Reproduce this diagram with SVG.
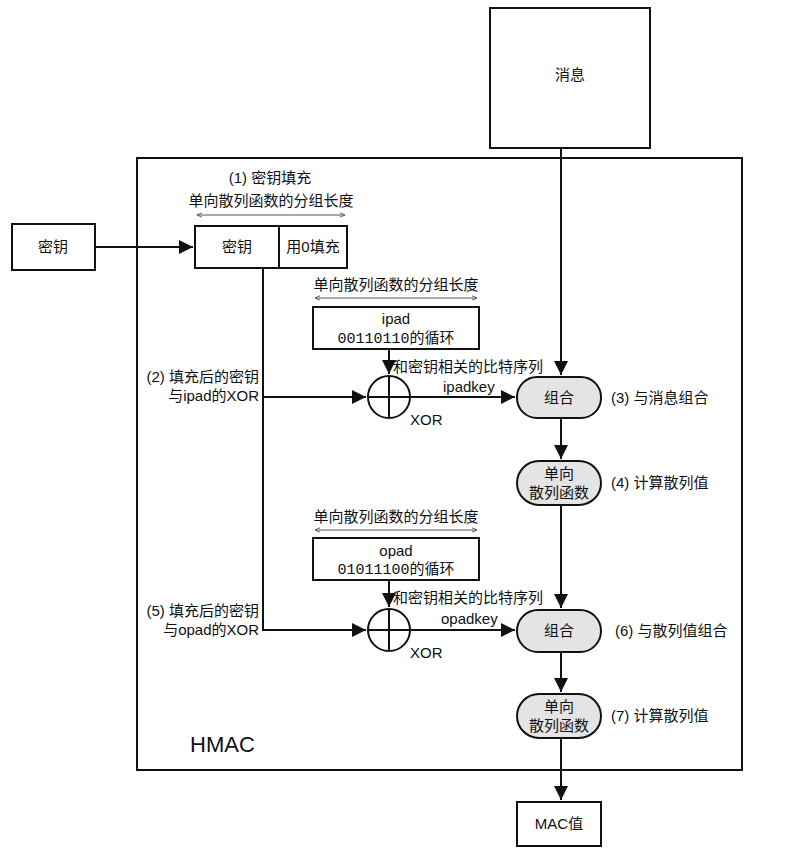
<svg xmlns="http://www.w3.org/2000/svg" width="794" height="855" viewBox="0 0 794 855">
<style>
text{font-family:"Liberation Sans","Noto Sans CJK SC",sans-serif;font-size:15px;fill:#111}
.c{text-anchor:middle}
.e{text-anchor:end}
.m{font-family:"Liberation Mono","Noto Sans CJK SC",monospace}
.b{fill:#fff;stroke:#111;stroke-width:2}
.p{fill:#e4e4e4;stroke:#111;stroke-width:2}
.l{fill:none;stroke:#111;stroke-width:2}
.t{fill:none;stroke:#555;stroke-width:1}
</style>
<defs>
<marker id="a" viewBox="0 0 10 10" refX="10" refY="5" markerWidth="7" markerHeight="7" orient="auto"><path d="M0,0L10,5L0,10z" fill="#111"/></marker>
<marker id="s" viewBox="0 0 10 10" refX="9" refY="5" markerWidth="6" markerHeight="6" orient="auto-start-reverse"><path d="M0,1L9,5L0,9" fill="none" stroke="#555" stroke-width="1.5"/></marker>
</defs>
<g id="frame"><rect x="137" y="158" width="605" height="612" fill="none" stroke="#111" stroke-width="2"/><text x="190" y="752" style="font-size:22px">HMAC</text></g>
<g id="msg"><rect class="b" x="490" y="8" width="160" height="140"/><text class="c" x="570" y="80">消息</text></g>
<g id="key"><rect class="b" x="12" y="224" width="83" height="46"/><text class="c" x="53" y="252">密钥</text></g>
<g id="padded"><text class="c" x="270" y="183">(1) 密钥填充</text><text class="c" x="271" y="206">单向散列函数的分组长度</text>
<line class="t" x1="197" y1="215" x2="345" y2="215" marker-start="url(#s)" marker-end="url(#s)"/>
<rect class="b" x="195" y="226" width="152" height="42"/><line class="l" x1="279" y1="226" x2="279" y2="268"/>
<text class="c" x="237" y="252">密钥</text><text class="c" x="313" y="252">用0填充</text></g>
<g id="ipad"><text class="c" x="396" y="290">单向散列函数的分组长度</text>
<line class="t" x1="315" y1="298" x2="477" y2="298" marker-start="url(#s)" marker-end="url(#s)"/>
<rect class="b" x="313" y="307" width="166" height="42"/><text class="c" x="396" y="324">ipad</text><text class="c m" x="396" y="343">00110110的循环</text></g>
<g id="xor1"><circle class="b" cx="389" cy="397" r="21"/><line class="l" x1="368" y1="397" x2="410" y2="397"/><line class="l" x1="389" y1="376" x2="389" y2="418"/><text x="410" y="425">XOR</text></g>
<g id="comb1"><rect class="p" x="517" y="377" width="84" height="41" rx="20"/><text class="c" x="559" y="403">组合</text><text x="611" y="403">(3) 与消息组合</text></g>
<g id="hash1"><rect class="p" x="517" y="461" width="84" height="44" rx="22"/><text class="c" x="559" y="479">单向</text><text class="c" x="559" y="498">散列函数</text><text x="611" y="488">(4) 计算散列值</text></g>
<g id="opad"><text class="c" x="396" y="522">单向散列函数的分组长度</text>
<line class="t" x1="315" y1="530" x2="477" y2="530" marker-start="url(#s)" marker-end="url(#s)"/>
<rect class="b" x="313" y="538" width="166" height="42"/><text class="c" x="396" y="556">opad</text><text class="c m" x="396" y="574">01011100的循环</text></g>
<g id="xor2"><circle class="b" cx="389" cy="630" r="21"/><line class="l" x1="368" y1="630" x2="410" y2="630"/><line class="l" x1="389" y1="609" x2="389" y2="651"/><text x="410" y="658">XOR</text></g>
<g id="comb2"><rect class="p" x="517" y="610" width="84" height="42" rx="21"/><text class="c" x="559" y="636">组合</text><text x="615" y="636">(6) 与散列值组合</text></g>
<g id="hash2"><rect class="p" x="517" y="694" width="84" height="44" rx="22"/><text class="c" x="559" y="712">单向</text><text class="c" x="559" y="731">散列函数</text><text x="611" y="721">(7) 计算散列值</text></g>
<g id="mac"><rect class="b" x="517" y="802" width="84" height="44"/><text class="c" x="559" y="829">MAC值</text></g>
<g id="labels">
<text class="e" x="259" y="382">(2) 填充后的密钥</text><text class="e" x="259" y="401">与ipad的XOR</text>
<text x="393" y="372">和密钥相关的比特序列</text><text x="443" y="392">ipadkey</text>
<text class="e" x="259" y="616">(5) 填充后的密钥</text><text class="e" x="259" y="635">与opad的XOR</text>
<text x="393" y="603">和密钥相关的比特序列</text><text x="441" y="624">opadkey</text>
</g>
<g id="connectors">
<line class="l" x1="95" y1="247" x2="193" y2="247" marker-end="url(#a)"/>
<line class="l" x1="561" y1="148" x2="561" y2="375" marker-end="url(#a)"/>
<polyline class="l" points="263,268 263,630 366,630" marker-end="url(#a)"/>
<line class="l" x1="263" y1="397" x2="366" y2="397" marker-end="url(#a)"/>
<line class="l" x1="389" y1="349" x2="389" y2="374" marker-end="url(#a)"/>
<line class="l" x1="389" y1="580" x2="389" y2="607" marker-end="url(#a)"/>
<line class="l" x1="410" y1="397" x2="515" y2="397" marker-end="url(#a)"/>
<line class="l" x1="410" y1="630" x2="515" y2="630" marker-end="url(#a)"/>
<line class="l" x1="561" y1="418" x2="561" y2="459" marker-end="url(#a)"/>
<line class="l" x1="561" y1="505" x2="561" y2="608" marker-end="url(#a)"/>
<line class="l" x1="561" y1="652" x2="561" y2="692" marker-end="url(#a)"/>
<line class="l" x1="561" y1="738" x2="561" y2="800" marker-end="url(#a)"/>
</g>
</svg>
